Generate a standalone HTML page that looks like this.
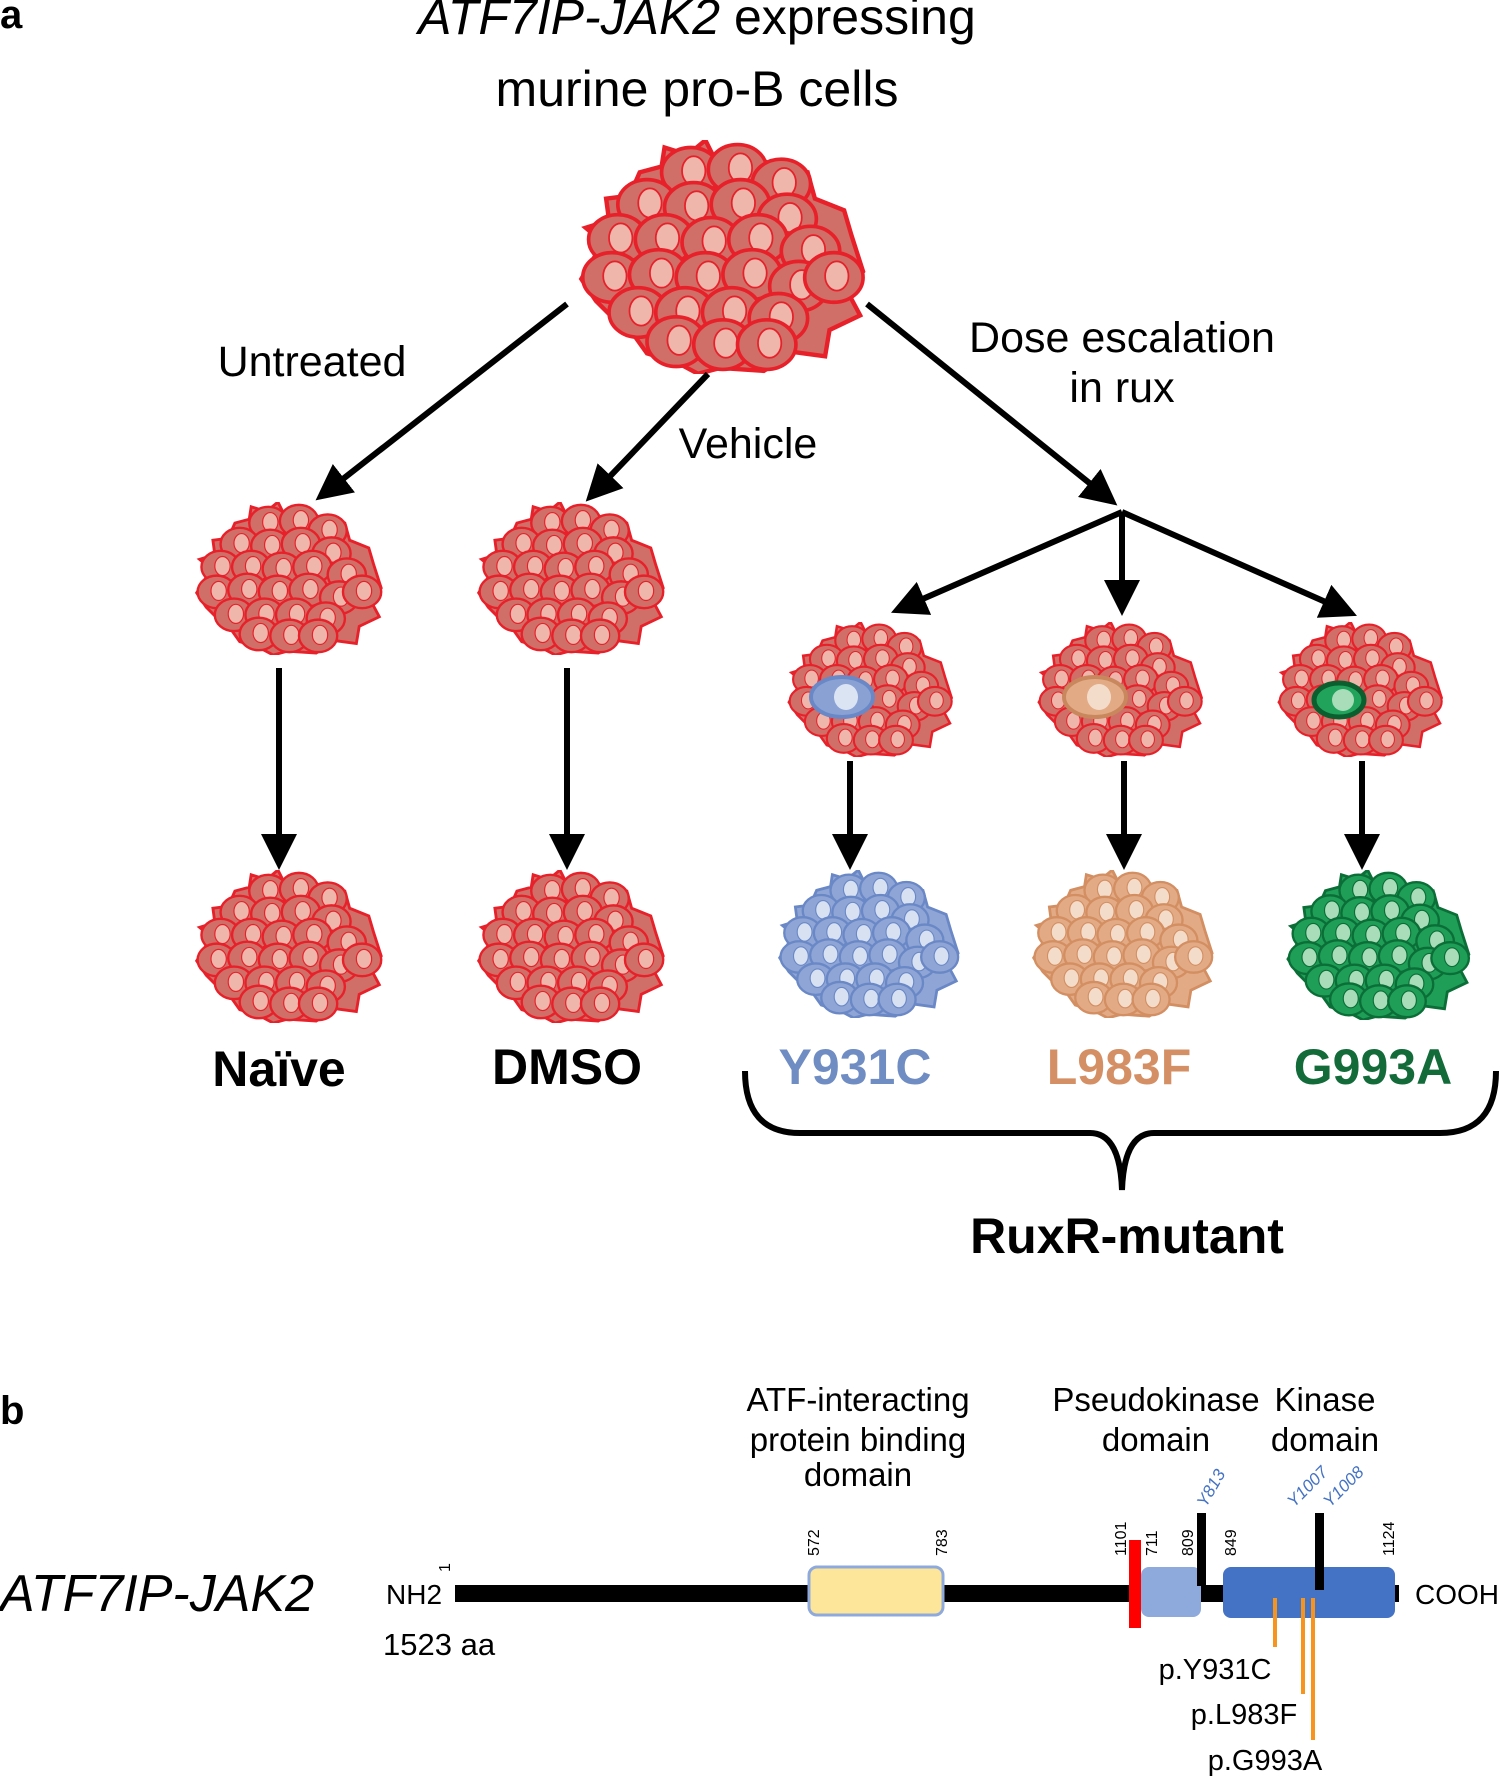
<!DOCTYPE html>
<html><head><meta charset="utf-8"><style>
html,body{margin:0;padding:0;background:#fff;}
svg{display:block;font-family:"Liberation Sans",Arial,sans-serif;}
.red{--f:#cf6f67;--s:#e8202a;--n:#efb7ac;}
.blue{--f:#8ea5d6;--s:#6a88c6;--n:#d7e1f2;}
.org{--f:#e2ab85;--s:#d38e62;--n:#f4dccb;}
.grn{--f:#1f9e57;--s:#0b6e36;--n:#a9dcb8;}
</style></head><body>
<svg width="1500" height="1777" viewBox="0 0 1500 1777" xmlns="http://www.w3.org/2000/svg">
<defs>
<g id="cell"><ellipse cx="0" cy="0" rx="20" ry="17" style="fill:var(--f);stroke:var(--s)" stroke-width="2.5"/><ellipse cx="2" cy="-1" rx="8" ry="10" style="fill:var(--n);stroke:var(--s)" stroke-width="1.2"/></g>
<symbol id="cl" viewBox="0 0 200 160">
<polygon points="20,70 8,60 24,55 22,40 38,38 45,22 60,18 62,5 78,10 90,0 95,10 120,8 140,20 160,22 165,40 185,48 190,65 198,90 188,105 196,120 175,130 172,148 150,145 130,158 100,156 85,160 70,152 50,146 40,132 30,125 15,110 5,95" style="fill:var(--f);stroke:var(--s)" stroke-width="3"/>
<use href="#cell" x="80" y="22"/><use href="#cell" x="112" y="20"/><use href="#cell" x="142" y="30"/>
<use href="#cell" x="50" y="44"/><use href="#cell" x="82" y="46"/><use href="#cell" x="114" y="44"/><use href="#cell" x="146" y="54"/>
<use href="#cell" x="30" y="68"/><use href="#cell" x="62" y="68"/><use href="#cell" x="94" y="70"/><use href="#cell" x="126" y="68"/><use href="#cell" x="162" y="76"/>
<use href="#cell" x="26" y="94"/><use href="#cell" x="58" y="92"/><use href="#cell" x="90" y="94"/><use href="#cell" x="122" y="92"/><use href="#cell" x="154" y="100"/><use href="#cell" x="178" y="94"/>
<use href="#cell" x="44" y="118"/><use href="#cell" x="76" y="118"/><use href="#cell" x="108" y="118"/><use href="#cell" x="140" y="122"/>
<use href="#cell" x="70" y="138"/><use href="#cell" x="102" y="140"/><use href="#cell" x="132" y="140"/>
</symbol>
<marker id="ah" markerWidth="6" markerHeight="6" refX="4" refY="3" orient="auto" markerUnits="strokeWidth"><path d="M0,0 L6,3 L0,6 Z" fill="#000"/></marker>
</defs>

<text x="0" y="28" font-size="40" font-weight="bold">a</text>
<text x="697" y="34" font-size="50" text-anchor="middle"><tspan font-style="italic">ATF7IP-JAK2</tspan> expressing</text>
<text x="697" y="106" font-size="50" text-anchor="middle">murine pro-B cells</text>

<use href="#cl" class="red" x="574" y="140" width="292" height="234"/>

<g stroke="#000" stroke-width="6" fill="none" marker-end="url(#ah)">
<line x1="567" y1="304" x2="325" y2="493"/>
<line x1="708" y1="374" x2="594" y2="493"/>
<line x1="867" y1="304" x2="1108" y2="498"/>
<line x1="1122" y1="512" x2="902" y2="608"/>
<line x1="1122" y1="512" x2="1122" y2="604"/>
<line x1="1122" y1="512" x2="1346" y2="611"/>
<line x1="279" y1="668" x2="279" y2="858"/>
<line x1="567" y1="668" x2="567" y2="858"/>
<line x1="850" y1="761" x2="850" y2="858"/>
<line x1="1124" y1="761" x2="1124" y2="858"/>
<line x1="1362" y1="761" x2="1362" y2="858"/>
</g>

<text x="312" y="376" font-size="43" text-anchor="middle">Untreated</text>
<text x="748" y="458" font-size="43" text-anchor="middle">Vehicle</text>
<text x="1122" y="352" font-size="43" text-anchor="middle">Dose escalation</text>
<text x="1122" y="402" font-size="43" text-anchor="middle">in rux</text>

<use href="#cl" class="red" x="185" y="502" width="205" height="153"/>
<use href="#cl" class="red" x="467" y="502" width="205" height="153"/>

<use href="#cl" class="red" x="780" y="622" width="178" height="135"/>
<use href="#cl" class="red" x="1030" y="622" width="178" height="135"/>
<use href="#cl" class="red" x="1270" y="622" width="178" height="135"/>
<ellipse cx="842" cy="697" rx="31" ry="20" fill="#8aa1d4" stroke="#6a88c6" stroke-width="4"/><ellipse cx="846" cy="697" rx="12" ry="13" fill="#dbe4f3"/>
<ellipse cx="1095" cy="697" rx="31" ry="20" fill="#e2ab85" stroke="#c8875d" stroke-width="4"/><ellipse cx="1099" cy="697" rx="12" ry="13" fill="#f4dccb"/>
<ellipse cx="1339" cy="700" rx="25" ry="17" fill="#22a35c" stroke="#0b5e2e" stroke-width="5"/><ellipse cx="1343" cy="700" rx="11" ry="11" fill="#a9dcb8"/>

<use href="#cl" class="red" x="185" y="870" width="205" height="153"/>
<use href="#cl" class="red" x="467" y="870" width="205" height="153"/>
<use href="#cl" class="blue" x="770" y="870" width="195" height="148"/>
<use href="#cl" class="org" x="1024" y="870" width="195" height="148"/>
<use href="#cl" class="grn" x="1277" y="870" width="200" height="150"/>

<g font-size="50" font-weight="bold" text-anchor="middle">
<text x="279" y="1086">Naïve</text>
<text x="567" y="1084">DMSO</text>
<text x="855" y="1084" fill="#6f8dc2">Y931C</text>
<text x="1119" y="1084" fill="#d58f65">L983F</text>
<text x="1373" y="1084" fill="#136b3a">G993A</text>
<text x="1127" y="1253">RuxR-mutant</text>
</g>
<path d="M745,1071 Q745,1133 800,1133 L1090,1133 Q1120,1133 1122,1190 Q1124,1133 1154,1133 L1440,1133 Q1496,1133 1496,1071" fill="none" stroke="#000" stroke-width="6"/>

<text x="0" y="1424" font-size="40" font-weight="bold">b</text>
<g font-size="33" text-anchor="middle">
<text x="858" y="1411">ATF-interacting</text>
<text x="858" y="1451">protein binding</text>
<text x="858" y="1486">domain</text>
<text x="1156" y="1411">Pseudokinase</text>
<text x="1156" y="1451">domain</text>
<text x="1325" y="1411">Kinase</text>
<text x="1325" y="1451">domain</text>
</g>
<text x="0" y="1611" font-size="52" font-style="italic">ATF7IP-JAK2</text>
<text x="386" y="1604" font-size="28">NH2</text>
<text x="383" y="1655" font-size="31">1523 aa</text>
<text x="1415" y="1604" font-size="28">COOH</text>

<rect x="455" y="1585" width="942" height="17" fill="#000"/>
<rect x="1396" y="1585" width="3" height="17" fill="#000"/>
<rect x="809" y="1567" width="134" height="48" rx="8" fill="#fde69a" stroke="#8eaadc" stroke-width="3"/>
<rect x="1141" y="1567" width="60" height="50" rx="8" fill="#8eaadc"/>
<rect x="1223" y="1567" width="172" height="51" rx="8" fill="#4472c4"/>
<rect x="1129" y="1540" width="12" height="88" fill="#f00"/>
<rect x="1197" y="1513" width="9" height="73" fill="#000"/>
<rect x="1315" y="1513" width="9" height="77" fill="#000"/>
<g stroke="#f7941d" stroke-width="4">
<line x1="1275" y1="1598" x2="1275" y2="1647"/>
<line x1="1303" y1="1598" x2="1303" y2="1694"/>
<line x1="1313" y1="1598" x2="1313" y2="1740"/>
</g>
<g font-size="29" text-anchor="middle">
<text x="1215" y="1679">p.Y931C</text>
<text x="1244" y="1724">p.L983F</text>
<text x="1265" y="1770">p.G993A</text>
</g>
<g font-size="16">
<text transform="translate(450,1572) rotate(-90)">1</text>
<text transform="translate(819,1556) rotate(-90)">572</text>
<text transform="translate(947,1556) rotate(-90)">783</text>
<text transform="translate(1126,1556) rotate(-90)">1101</text>
<text transform="translate(1157,1556) rotate(-90)">711</text>
<text transform="translate(1193,1556) rotate(-90)">809</text>
<text transform="translate(1236,1556) rotate(-90)">849</text>
<text transform="translate(1394,1556) rotate(-90)">1124</text>
</g>
<g font-size="17" fill="#4472c4" font-style="italic">
<text transform="translate(1206,1508) rotate(-60)">Y813</text>
<text transform="translate(1294,1508) rotate(-45)">Y1007</text>
<text transform="translate(1330,1508) rotate(-45)">Y1008</text>
</g>
</svg>
</body></html>
